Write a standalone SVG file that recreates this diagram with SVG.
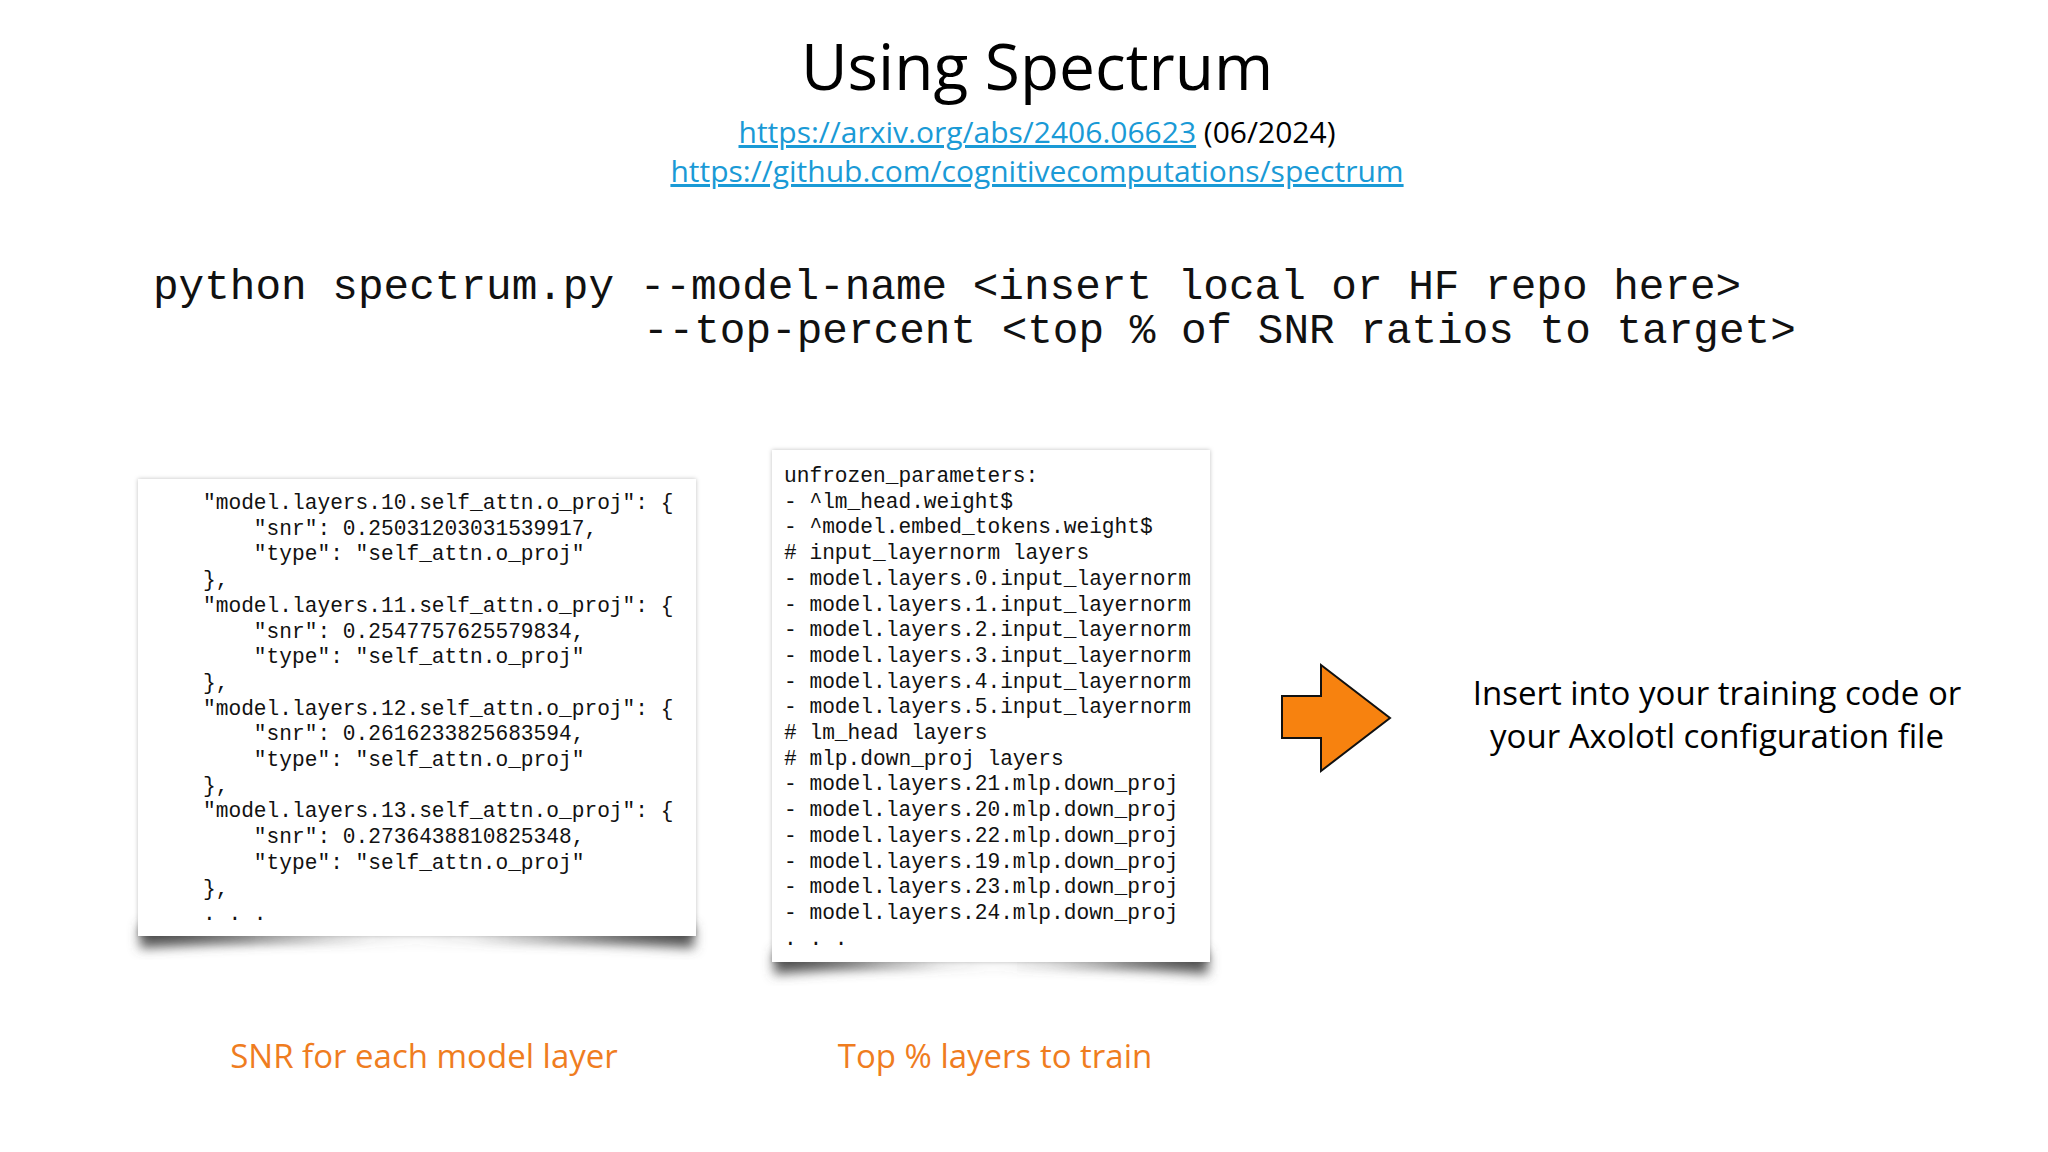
<svg xmlns="http://www.w3.org/2000/svg" width="2048" height="1152" viewBox="0 0 2048 1152">
<style>
.sans{font-family:"Open Sans","Liberation Sans",sans-serif}
.mono{font-family:"Liberation Mono","DejaVu Sans Mono",monospace;fill:#111}
.code{font-size:21.2px;white-space:pre}
.link{fill:#1a9ad6;text-decoration:underline}
.lbl{fill:#ef7d1f;font-size:33px}
.panel{fill:#fff;filter:url(#edge)}
</style>
<defs>
<filter id="sh" x="-10%" y="-50%" width="120%" height="200%"><feGaussianBlur stdDeviation="6"/></filter>
<filter id="edge" x="-5%" y="-5%" width="110%" height="110%"><feDropShadow dx="0" dy="0" stdDeviation="2" flood-color="#000" flood-opacity="0.25"/></filter>
</defs>
<rect width="2048" height="1152" fill="#fff"/>
<text class="sans" x="1037" y="90" font-size="64" text-anchor="middle" fill="#000">Using Spectrum</text>
<text class="sans" x="1037" y="143" font-size="30" text-anchor="middle" fill="#000"><tspan class="link">https://arxiv.org/abs/2406.06623</tspan> (06/2024)</text>
<text class="sans link" x="1037" y="182" font-size="30" text-anchor="middle">https://github.com/cognitivecomputations/spectrum</text>
<g id="command">
<text class="mono" x="153" y="299" font-size="42.7" style="white-space:pre" fill="#222" font-weight="300">python spectrum.py --model-name &lt;insert local or HF repo here&gt;</text>
<text class="mono" x="643" y="343" font-size="42.7" style="white-space:pre" fill="#222">--top-percent &lt;top % of SNR ratios to target&gt;</text>
</g>
<g id="snr-panel">
<path d="M140 925 Q417 952 694 925 L694 948 Q417 930 140 948 Z" fill="#555" filter="url(#sh)"/>
<rect class="panel" x="138" y="479" width="558" height="457"/>
<text class="mono code" x="203" y="509"><tspan x="203" dy="0">"model.layers.10.self_attn.o_proj": {</tspan><tspan x="203" dy="25.7">    "snr": 0.25031203031539917,</tspan><tspan x="203" dy="25.7">    "type": "self_attn.o_proj"</tspan><tspan x="203" dy="25.7">},</tspan><tspan x="203" dy="25.7">"model.layers.11.self_attn.o_proj": {</tspan><tspan x="203" dy="25.7">    "snr": 0.2547757625579834,</tspan><tspan x="203" dy="25.7">    "type": "self_attn.o_proj"</tspan><tspan x="203" dy="25.7">},</tspan><tspan x="203" dy="25.7">"model.layers.12.self_attn.o_proj": {</tspan><tspan x="203" dy="25.7">    "snr": 0.2616233825683594,</tspan><tspan x="203" dy="25.7">    "type": "self_attn.o_proj"</tspan><tspan x="203" dy="25.7">},</tspan><tspan x="203" dy="25.7">"model.layers.13.self_attn.o_proj": {</tspan><tspan x="203" dy="25.7">    "snr": 0.2736438810825348,</tspan><tspan x="203" dy="25.7">    "type": "self_attn.o_proj"</tspan><tspan x="203" dy="25.7">},</tspan><tspan x="203" dy="25.7">. . .</tspan></text>
</g>
<g id="params-panel">
<path d="M774 951 Q991 978 1208 951 L1208 974 Q991 956 774 974 Z" fill="#555" filter="url(#sh)"/>
<rect class="panel" x="772" y="450" width="438" height="512"/>
<text class="mono code" x="784" y="482"><tspan x="784" dy="0">unfrozen_parameters:</tspan><tspan x="784" dy="25.7">- ^lm_head.weight$</tspan><tspan x="784" dy="25.7">- ^model.embed_tokens.weight$</tspan><tspan x="784" dy="25.7"># input_layernorm layers</tspan><tspan x="784" dy="25.7">- model.layers.0.input_layernorm</tspan><tspan x="784" dy="25.7">- model.layers.1.input_layernorm</tspan><tspan x="784" dy="25.7">- model.layers.2.input_layernorm</tspan><tspan x="784" dy="25.7">- model.layers.3.input_layernorm</tspan><tspan x="784" dy="25.7">- model.layers.4.input_layernorm</tspan><tspan x="784" dy="25.7">- model.layers.5.input_layernorm</tspan><tspan x="784" dy="25.7"># lm_head layers</tspan><tspan x="784" dy="25.7"># mlp.down_proj layers</tspan><tspan x="784" dy="25.7">- model.layers.21.mlp.down_proj</tspan><tspan x="784" dy="25.7">- model.layers.20.mlp.down_proj</tspan><tspan x="784" dy="25.7">- model.layers.22.mlp.down_proj</tspan><tspan x="784" dy="25.7">- model.layers.19.mlp.down_proj</tspan><tspan x="784" dy="25.7">- model.layers.23.mlp.down_proj</tspan><tspan x="784" dy="25.7">- model.layers.24.mlp.down_proj</tspan><tspan x="784" dy="25.7">. . .</tspan></text>
</g>
<g id="connectors">
<polygon points="1282,696 1321,696 1321,665 1390,718 1321,771 1321,738 1282,738" fill="#f7820f" stroke="#111" stroke-width="2"/>
</g>
<g id="insert-text">
<text class="sans" x="1717" y="705" font-size="33" text-anchor="middle" fill="#000">Insert into your training code or</text>
<text class="sans" x="1717" y="748" font-size="33" text-anchor="middle" fill="#000">your Axolotl configuration file</text>
</g>
<text class="sans lbl" x="424" y="1068" text-anchor="middle">SNR for each model layer</text>
<text class="sans lbl" x="995" y="1068" text-anchor="middle">Top % layers to train</text>
</svg>
